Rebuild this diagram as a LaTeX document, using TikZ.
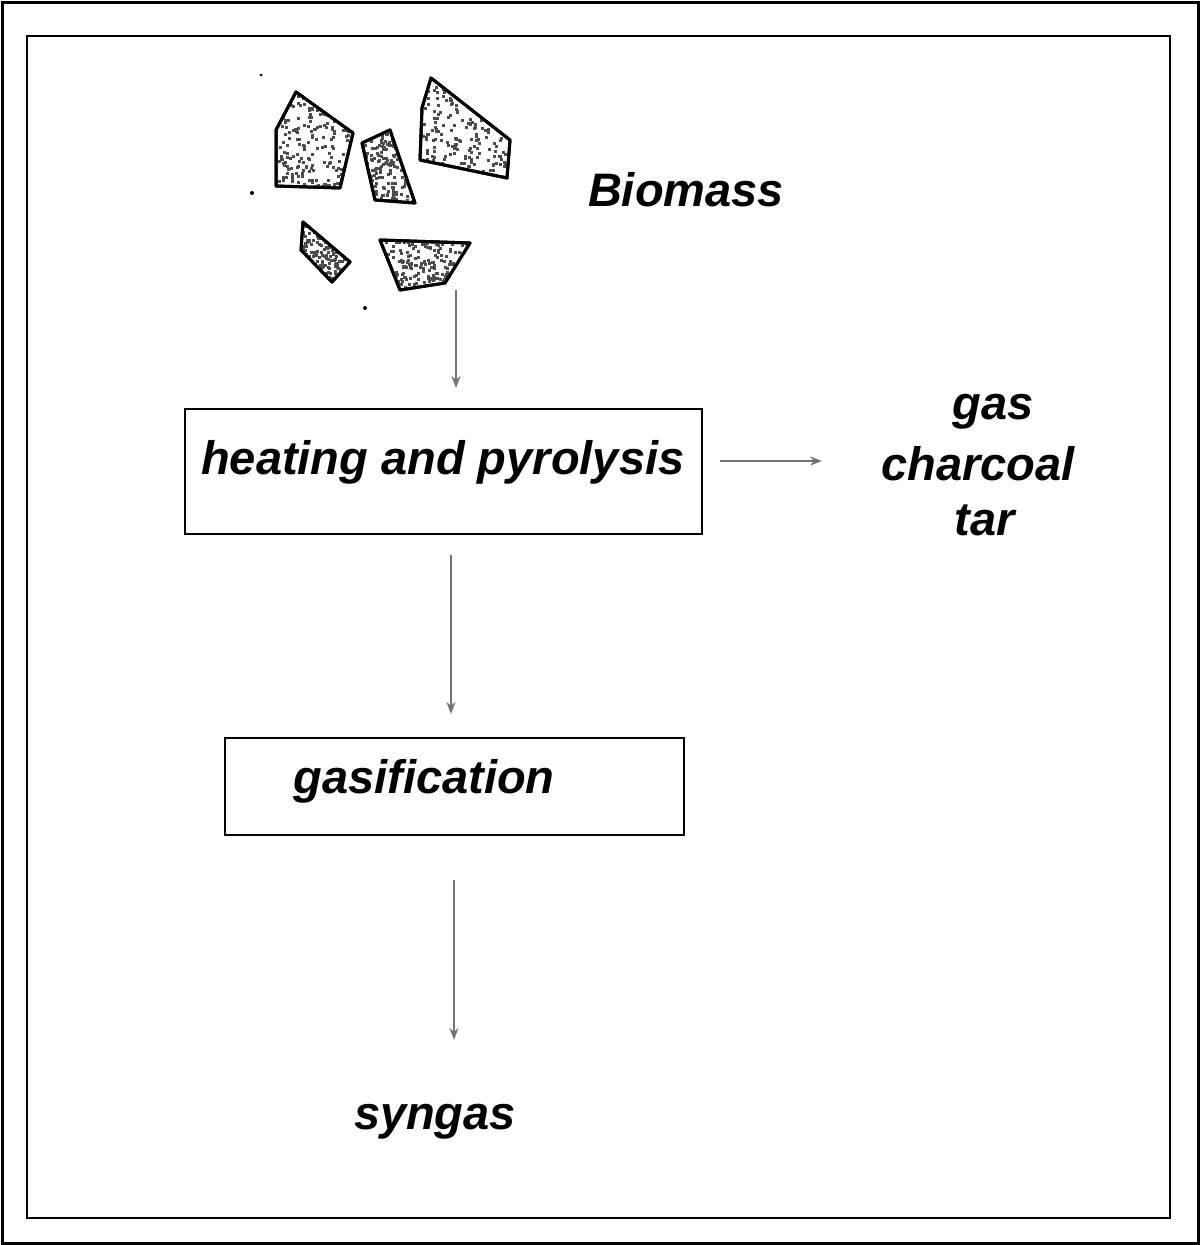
\documentclass[tikz,border=0pt]{standalone}
\usepackage{fontspec}
\setmainfont{Liberation Sans}
\usetikzlibrary{arrows.meta}
\begin{document}
\begin{tikzpicture}[x=1pt,y=-1pt,
  lbl/.style={font=\fontsize{47}{52}\selectfont\bfseries\itshape, inner sep=0pt, align=center},
  box/.style={draw, line width=2pt, inner sep=0pt},
  conn/.style={draw=black!55, line width=2.4pt, -{Stealth[length=12pt,width=9pt,fill=black!75]}},
  piece/.style={draw, line width=3pt, line join=round, fill=white}]
\useasboundingbox (0,0) rectangle (1200,1245);
\draw[line width=3pt] (2,2) rectangle (1198,1243);
\draw[line width=2pt] (27,36) rectangle (1170,1218);
% biomass pieces
\pgfmathsetseed{7}
\foreach \poly/\xa/\ya/\w/\h in {{(296,92)--(353,133)--(340,188)--(276,186)--(276,130)--cycle}/276/92/77/96,
                   {(362,143)--(390,130)--(415,203)--(375,200)--cycle}/362/130/53/73,
                   {(431,78)--(510,140)--(507,178)--(420,160)--(422,108)--cycle}/420/78/90/100,
                   {(303,222)--(350,262)--(332,282)--(301,250)--cycle}/301/222/49/60,
                   {(380,240)--(470,243)--(445,283)--(400,290)--cycle}/380/240/90/50}{
  \begin{scope}
    \path[piece] \poly;
    \clip \poly;
    \foreach \i in {1,...,220}{
      \pgfmathsetmacro{\rx}{\xa+rnd*\w}
      \pgfmathsetmacro{\ry}{\ya+rnd*\h}
      \fill[black!70] (\rx,\ry) rectangle ++(3,3);
    }
  \end{scope}
  \draw[line width=3pt, line join=round] \poly;
}
\fill (261,75) circle (1.5);
\fill (252,193) circle (2);
\fill (365,308) circle (2);
\node[lbl] (bio) at (686,190) {Biomass};
\coordinate (bioout) at (456,290);
\node[box, minimum width=517pt, minimum height=125pt] (heat) at (443.5,471.5) {};
\node[lbl, anchor=west] (heattxt) at (201,462) {heating and pyrolysis};
\node[box, minimum width=459pt, minimum height=97pt] (gasi) at (454.5,786.5) {};
\node[lbl] (gasitxt) at (424,781) {gasification};
\node[lbl] (gas) at (993,412) {gas};
\node[lbl] (char) at (978,464) {charcoal};
\node[lbl] (tar) at (985,520) {tar};
\node[lbl] (syn) at (435,1122) {syngas};
\coordinate (a1) at (456,388);
\coordinate (b0) at (720,461);
\coordinate (b1) at (822,461);
\coordinate (c0) at (451,555);
\coordinate (c1) at (451,714);
\coordinate (d0) at (454,880);
\coordinate (d1) at (454,1040);
\draw[conn] (bioout) -- (a1);
\draw[conn] (b0) -- (b1);
\draw[conn] (c0) -- (c1);
\draw[conn] (d0) -- (d1);
\end{tikzpicture}
\end{document}
